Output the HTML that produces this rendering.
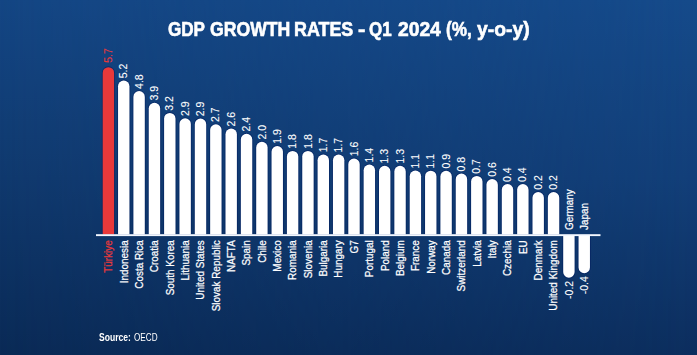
<!DOCTYPE html>
<html><head><meta charset="utf-8">
<style>
html,body{margin:0;padding:0;}
body{width:697px;height:355px;overflow:hidden;position:relative;
background:linear-gradient(180deg,rgb(20,70,132) 0%,rgb(16,57,110) 50%,rgb(10,42,86) 100%);
font-family:"Liberation Sans",sans-serif;}
svg{position:absolute;left:0;top:0;}
.bgr{position:absolute;left:0;top:0;width:697px;height:355px;background:linear-gradient(180deg,rgb(21,74,138) 0%,rgb(18,63,121) 50%,rgb(12,46,94) 100%);-webkit-mask-image:linear-gradient(90deg,transparent 0%,#000 100%);mask-image:linear-gradient(90deg,transparent 0%,#000 100%);}
.l{font-family:"Liberation Sans",sans-serif;font-size:10.8px;stroke-width:0.25px;}
.v{font-family:"Liberation Sans",sans-serif;font-size:10px;stroke-width:0.1px;}
.title{position:absolute;top:18px;white-space:nowrap;color:#fff;font-weight:bold;font-size:19.3px;line-height:24px;transform-origin:0 0;-webkit-text-stroke:0.6px #fff;}
.src{position:absolute;top:331.5px;white-space:nowrap;color:#fff;font-size:10px;line-height:12px;transform-origin:0 0;}
</style></head><body>
<div class="bgr"></div>
<div class="title" style="left:167.51px;transform:scaleX(0.8854)">GDP</div><div class="title" style="left:209.68px;transform:scaleX(0.9151)">GROWTH</div><div class="title" style="left:293.97px;transform:scaleX(0.9274)">RATES</div><div class="title" style="left:357.70px;transform:scaleX(1.1333)">-</div><div class="title" style="left:368.92px;transform:scaleX(0.8800)">Q1</div><div class="title" style="left:398.20px;transform:scaleX(0.9977)">2024</div><div class="title" style="left:446.31px;transform:scaleX(0.8889)">(%,</div><div class="title" style="left:476.60px;transform:scaleX(1.0019)">y-o-y)</div>
<svg width="697" height="355" viewBox="0 0 697 355">
<path d="M102.70,234.5 V72.90 A5.70,5.70 0 0 1 114.10,72.90 V234.5 Z" fill="none" stroke="#001e5e" stroke-opacity="0.55" stroke-width="1.8"/>
<path d="M118.05,234.5 V86.20 A5.70,5.70 0 0 1 129.45,86.20 V234.5 Z" fill="none" stroke="#001e5e" stroke-opacity="0.55" stroke-width="1.8"/>
<path d="M133.40,234.5 V96.80 A5.70,5.70 0 0 1 144.80,96.80 V234.5 Z" fill="none" stroke="#001e5e" stroke-opacity="0.55" stroke-width="1.8"/>
<path d="M148.75,234.5 V108.50 A5.70,5.70 0 0 1 160.15,108.50 V234.5 Z" fill="none" stroke="#001e5e" stroke-opacity="0.55" stroke-width="1.8"/>
<path d="M164.10,234.5 V118.60 A5.70,5.70 0 0 1 175.50,118.60 V234.5 Z" fill="none" stroke="#001e5e" stroke-opacity="0.55" stroke-width="1.8"/>
<path d="M179.45,234.5 V124.00 A5.70,5.70 0 0 1 190.85,124.00 V234.5 Z" fill="none" stroke="#001e5e" stroke-opacity="0.55" stroke-width="1.8"/>
<path d="M194.80,234.5 V124.20 A5.70,5.70 0 0 1 206.20,124.20 V234.5 Z" fill="none" stroke="#001e5e" stroke-opacity="0.55" stroke-width="1.8"/>
<path d="M210.15,234.5 V130.00 A5.70,5.70 0 0 1 221.55,130.00 V234.5 Z" fill="none" stroke="#001e5e" stroke-opacity="0.55" stroke-width="1.8"/>
<path d="M225.50,234.5 V134.30 A5.70,5.70 0 0 1 236.90,134.30 V234.5 Z" fill="none" stroke="#001e5e" stroke-opacity="0.55" stroke-width="1.8"/>
<path d="M240.85,234.5 V139.50 A5.70,5.70 0 0 1 252.25,139.50 V234.5 Z" fill="none" stroke="#001e5e" stroke-opacity="0.55" stroke-width="1.8"/>
<path d="M256.20,234.5 V147.50 A5.70,5.70 0 0 1 267.60,147.50 V234.5 Z" fill="none" stroke="#001e5e" stroke-opacity="0.55" stroke-width="1.8"/>
<path d="M271.55,234.5 V151.70 A5.70,5.70 0 0 1 282.95,151.70 V234.5 Z" fill="none" stroke="#001e5e" stroke-opacity="0.55" stroke-width="1.8"/>
<path d="M286.90,234.5 V156.60 A5.70,5.70 0 0 1 298.30,156.60 V234.5 Z" fill="none" stroke="#001e5e" stroke-opacity="0.55" stroke-width="1.8"/>
<path d="M302.25,234.5 V156.60 A5.70,5.70 0 0 1 313.65,156.60 V234.5 Z" fill="none" stroke="#001e5e" stroke-opacity="0.55" stroke-width="1.8"/>
<path d="M317.60,234.5 V160.20 A5.70,5.70 0 0 1 329.00,160.20 V234.5 Z" fill="none" stroke="#001e5e" stroke-opacity="0.55" stroke-width="1.8"/>
<path d="M332.95,234.5 V160.30 A5.70,5.70 0 0 1 344.35,160.30 V234.5 Z" fill="none" stroke="#001e5e" stroke-opacity="0.55" stroke-width="1.8"/>
<path d="M348.30,234.5 V164.20 A5.70,5.70 0 0 1 359.70,164.20 V234.5 Z" fill="none" stroke="#001e5e" stroke-opacity="0.55" stroke-width="1.8"/>
<path d="M363.65,234.5 V170.30 A5.70,5.70 0 0 1 375.05,170.30 V234.5 Z" fill="none" stroke="#001e5e" stroke-opacity="0.55" stroke-width="1.8"/>
<path d="M379.00,234.5 V171.50 A5.70,5.70 0 0 1 390.40,171.50 V234.5 Z" fill="none" stroke="#001e5e" stroke-opacity="0.55" stroke-width="1.8"/>
<path d="M394.35,234.5 V171.50 A5.70,5.70 0 0 1 405.75,171.50 V234.5 Z" fill="none" stroke="#001e5e" stroke-opacity="0.55" stroke-width="1.8"/>
<path d="M409.70,234.5 V176.30 A5.70,5.70 0 0 1 421.10,176.30 V234.5 Z" fill="none" stroke="#001e5e" stroke-opacity="0.55" stroke-width="1.8"/>
<path d="M425.05,234.5 V176.40 A5.70,5.70 0 0 1 436.45,176.40 V234.5 Z" fill="none" stroke="#001e5e" stroke-opacity="0.55" stroke-width="1.8"/>
<path d="M440.40,234.5 V176.50 A5.70,5.70 0 0 1 451.80,176.50 V234.5 Z" fill="none" stroke="#001e5e" stroke-opacity="0.55" stroke-width="1.8"/>
<path d="M455.75,234.5 V179.30 A5.70,5.70 0 0 1 467.15,179.30 V234.5 Z" fill="none" stroke="#001e5e" stroke-opacity="0.55" stroke-width="1.8"/>
<path d="M471.10,234.5 V181.60 A5.70,5.70 0 0 1 482.50,181.60 V234.5 Z" fill="none" stroke="#001e5e" stroke-opacity="0.55" stroke-width="1.8"/>
<path d="M486.45,234.5 V184.70 A5.70,5.70 0 0 1 497.85,184.70 V234.5 Z" fill="none" stroke="#001e5e" stroke-opacity="0.55" stroke-width="1.8"/>
<path d="M501.80,234.5 V189.80 A5.70,5.70 0 0 1 513.20,189.80 V234.5 Z" fill="none" stroke="#001e5e" stroke-opacity="0.55" stroke-width="1.8"/>
<path d="M517.15,234.5 V189.80 A5.70,5.70 0 0 1 528.55,189.80 V234.5 Z" fill="none" stroke="#001e5e" stroke-opacity="0.55" stroke-width="1.8"/>
<path d="M532.50,234.5 V197.70 A5.70,5.70 0 0 1 543.90,197.70 V234.5 Z" fill="none" stroke="#001e5e" stroke-opacity="0.55" stroke-width="1.8"/>
<path d="M547.85,234.5 V197.70 A5.70,5.70 0 0 1 559.25,197.70 V234.5 Z" fill="none" stroke="#001e5e" stroke-opacity="0.55" stroke-width="1.8"/>
<path d="M563.20,236.0 V272.10 A5.70,5.70 0 0 0 574.60,272.10 V236.0 Z" fill="none" stroke="#001e5e" stroke-opacity="0.55" stroke-width="1.8"/>
<path d="M578.55,236.0 V267.50 A5.70,5.70 0 0 0 589.95,267.50 V236.0 Z" fill="none" stroke="#001e5e" stroke-opacity="0.55" stroke-width="1.8"/>
<path d="M102.70,234.5 V72.90 A5.70,5.70 0 0 1 114.10,72.90 V234.5 Z" fill="#e8393a"/>
<path d="M118.05,234.5 V86.20 A5.70,5.70 0 0 1 129.45,86.20 V234.5 Z" fill="#ffffff"/>
<path d="M133.40,234.5 V96.80 A5.70,5.70 0 0 1 144.80,96.80 V234.5 Z" fill="#ffffff"/>
<path d="M148.75,234.5 V108.50 A5.70,5.70 0 0 1 160.15,108.50 V234.5 Z" fill="#ffffff"/>
<path d="M164.10,234.5 V118.60 A5.70,5.70 0 0 1 175.50,118.60 V234.5 Z" fill="#ffffff"/>
<path d="M179.45,234.5 V124.00 A5.70,5.70 0 0 1 190.85,124.00 V234.5 Z" fill="#ffffff"/>
<path d="M194.80,234.5 V124.20 A5.70,5.70 0 0 1 206.20,124.20 V234.5 Z" fill="#ffffff"/>
<path d="M210.15,234.5 V130.00 A5.70,5.70 0 0 1 221.55,130.00 V234.5 Z" fill="#ffffff"/>
<path d="M225.50,234.5 V134.30 A5.70,5.70 0 0 1 236.90,134.30 V234.5 Z" fill="#ffffff"/>
<path d="M240.85,234.5 V139.50 A5.70,5.70 0 0 1 252.25,139.50 V234.5 Z" fill="#ffffff"/>
<path d="M256.20,234.5 V147.50 A5.70,5.70 0 0 1 267.60,147.50 V234.5 Z" fill="#ffffff"/>
<path d="M271.55,234.5 V151.70 A5.70,5.70 0 0 1 282.95,151.70 V234.5 Z" fill="#ffffff"/>
<path d="M286.90,234.5 V156.60 A5.70,5.70 0 0 1 298.30,156.60 V234.5 Z" fill="#ffffff"/>
<path d="M302.25,234.5 V156.60 A5.70,5.70 0 0 1 313.65,156.60 V234.5 Z" fill="#ffffff"/>
<path d="M317.60,234.5 V160.20 A5.70,5.70 0 0 1 329.00,160.20 V234.5 Z" fill="#ffffff"/>
<path d="M332.95,234.5 V160.30 A5.70,5.70 0 0 1 344.35,160.30 V234.5 Z" fill="#ffffff"/>
<path d="M348.30,234.5 V164.20 A5.70,5.70 0 0 1 359.70,164.20 V234.5 Z" fill="#ffffff"/>
<path d="M363.65,234.5 V170.30 A5.70,5.70 0 0 1 375.05,170.30 V234.5 Z" fill="#ffffff"/>
<path d="M379.00,234.5 V171.50 A5.70,5.70 0 0 1 390.40,171.50 V234.5 Z" fill="#ffffff"/>
<path d="M394.35,234.5 V171.50 A5.70,5.70 0 0 1 405.75,171.50 V234.5 Z" fill="#ffffff"/>
<path d="M409.70,234.5 V176.30 A5.70,5.70 0 0 1 421.10,176.30 V234.5 Z" fill="#ffffff"/>
<path d="M425.05,234.5 V176.40 A5.70,5.70 0 0 1 436.45,176.40 V234.5 Z" fill="#ffffff"/>
<path d="M440.40,234.5 V176.50 A5.70,5.70 0 0 1 451.80,176.50 V234.5 Z" fill="#ffffff"/>
<path d="M455.75,234.5 V179.30 A5.70,5.70 0 0 1 467.15,179.30 V234.5 Z" fill="#ffffff"/>
<path d="M471.10,234.5 V181.60 A5.70,5.70 0 0 1 482.50,181.60 V234.5 Z" fill="#ffffff"/>
<path d="M486.45,234.5 V184.70 A5.70,5.70 0 0 1 497.85,184.70 V234.5 Z" fill="#ffffff"/>
<path d="M501.80,234.5 V189.80 A5.70,5.70 0 0 1 513.20,189.80 V234.5 Z" fill="#ffffff"/>
<path d="M517.15,234.5 V189.80 A5.70,5.70 0 0 1 528.55,189.80 V234.5 Z" fill="#ffffff"/>
<path d="M532.50,234.5 V197.70 A5.70,5.70 0 0 1 543.90,197.70 V234.5 Z" fill="#ffffff"/>
<path d="M547.85,234.5 V197.70 A5.70,5.70 0 0 1 559.25,197.70 V234.5 Z" fill="#ffffff"/>
<path d="M563.20,236.0 V272.10 A5.70,5.70 0 0 0 574.60,272.10 V236.0 Z" fill="#ffffff"/>
<path d="M578.55,236.0 V267.50 A5.70,5.70 0 0 0 589.95,267.50 V236.0 Z" fill="#ffffff"/>
<rect x="96" y="234.20" width="504.5" height="1.9" fill="#f4f8ff"/>
<text transform="translate(112.20,240.2) rotate(-90) scale(0.92,1)" text-anchor="end" class="l" fill="#e8393a" stroke="#e8393a">Türkiye</text>
<text transform="translate(112.00,62.80) rotate(-90) scale(1.05,1)" text-anchor="start" class="v" fill="#e8393a" stroke="#e8393a">5.7</text>
<text transform="translate(127.55,240.2) rotate(-90) scale(0.92,1)" text-anchor="end" class="l" fill="#ffffff" stroke="#ffffff">Indonesia</text>
<text transform="translate(127.35,78.30) rotate(-90) scale(1.05,1)" text-anchor="start" class="v" fill="#ffffff" stroke="#ffffff">5.2</text>
<text transform="translate(142.90,240.2) rotate(-90) scale(0.92,1)" text-anchor="end" class="l" fill="#ffffff" stroke="#ffffff">Costa Rica</text>
<text transform="translate(142.70,88.90) rotate(-90) scale(1.05,1)" text-anchor="start" class="v" fill="#ffffff" stroke="#ffffff">4.8</text>
<text transform="translate(158.25,240.2) rotate(-90) scale(0.92,1)" text-anchor="end" class="l" fill="#ffffff" stroke="#ffffff">Croatia</text>
<text transform="translate(158.05,100.60) rotate(-90) scale(1.05,1)" text-anchor="start" class="v" fill="#ffffff" stroke="#ffffff">3.9</text>
<text transform="translate(173.60,240.2) rotate(-90) scale(0.92,1)" text-anchor="end" class="l" fill="#ffffff" stroke="#ffffff">South Korea</text>
<text transform="translate(173.40,110.70) rotate(-90) scale(1.05,1)" text-anchor="start" class="v" fill="#ffffff" stroke="#ffffff">3.2</text>
<text transform="translate(188.95,240.2) rotate(-90) scale(0.92,1)" text-anchor="end" class="l" fill="#ffffff" stroke="#ffffff">Lithuania</text>
<text transform="translate(188.75,116.10) rotate(-90) scale(1.05,1)" text-anchor="start" class="v" fill="#ffffff" stroke="#ffffff">2.9</text>
<text transform="translate(204.30,240.2) rotate(-90) scale(0.92,1)" text-anchor="end" class="l" fill="#ffffff" stroke="#ffffff">United States</text>
<text transform="translate(204.10,116.30) rotate(-90) scale(1.05,1)" text-anchor="start" class="v" fill="#ffffff" stroke="#ffffff">2.9</text>
<text transform="translate(219.65,240.2) rotate(-90) scale(0.92,1)" text-anchor="end" class="l" fill="#ffffff" stroke="#ffffff">Slovak Republic</text>
<text transform="translate(219.45,122.10) rotate(-90) scale(1.05,1)" text-anchor="start" class="v" fill="#ffffff" stroke="#ffffff">2.7</text>
<text transform="translate(235.00,240.2) rotate(-90) scale(0.92,1)" text-anchor="end" class="l" fill="#ffffff" stroke="#ffffff">NAFTA</text>
<text transform="translate(234.80,126.40) rotate(-90) scale(1.05,1)" text-anchor="start" class="v" fill="#ffffff" stroke="#ffffff">2.6</text>
<text transform="translate(250.35,240.2) rotate(-90) scale(0.92,1)" text-anchor="end" class="l" fill="#ffffff" stroke="#ffffff">Spain</text>
<text transform="translate(250.15,131.60) rotate(-90) scale(1.05,1)" text-anchor="start" class="v" fill="#ffffff" stroke="#ffffff">2.4</text>
<text transform="translate(265.70,240.2) rotate(-90) scale(0.92,1)" text-anchor="end" class="l" fill="#ffffff" stroke="#ffffff">Chile</text>
<text transform="translate(265.50,139.60) rotate(-90) scale(1.05,1)" text-anchor="start" class="v" fill="#ffffff" stroke="#ffffff">2.0</text>
<text transform="translate(281.05,240.2) rotate(-90) scale(0.92,1)" text-anchor="end" class="l" fill="#ffffff" stroke="#ffffff">Mexico</text>
<text transform="translate(280.85,143.80) rotate(-90) scale(1.05,1)" text-anchor="start" class="v" fill="#ffffff" stroke="#ffffff">1.9</text>
<text transform="translate(296.40,240.2) rotate(-90) scale(0.92,1)" text-anchor="end" class="l" fill="#ffffff" stroke="#ffffff">Romania</text>
<text transform="translate(296.20,148.70) rotate(-90) scale(1.05,1)" text-anchor="start" class="v" fill="#ffffff" stroke="#ffffff">1.8</text>
<text transform="translate(311.75,240.2) rotate(-90) scale(0.92,1)" text-anchor="end" class="l" fill="#ffffff" stroke="#ffffff">Slovenia</text>
<text transform="translate(311.55,148.70) rotate(-90) scale(1.05,1)" text-anchor="start" class="v" fill="#ffffff" stroke="#ffffff">1.8</text>
<text transform="translate(327.10,240.2) rotate(-90) scale(0.92,1)" text-anchor="end" class="l" fill="#ffffff" stroke="#ffffff">Bulgaria</text>
<text transform="translate(326.90,152.30) rotate(-90) scale(1.05,1)" text-anchor="start" class="v" fill="#ffffff" stroke="#ffffff">1.7</text>
<text transform="translate(342.45,240.2) rotate(-90) scale(0.92,1)" text-anchor="end" class="l" fill="#ffffff" stroke="#ffffff">Hungary</text>
<text transform="translate(342.25,152.40) rotate(-90) scale(1.05,1)" text-anchor="start" class="v" fill="#ffffff" stroke="#ffffff">1.7</text>
<text transform="translate(357.80,240.2) rotate(-90) scale(0.92,1)" text-anchor="end" class="l" fill="#ffffff" stroke="#ffffff">G7</text>
<text transform="translate(357.60,156.30) rotate(-90) scale(1.05,1)" text-anchor="start" class="v" fill="#ffffff" stroke="#ffffff">1.6</text>
<text transform="translate(373.15,240.2) rotate(-90) scale(0.92,1)" text-anchor="end" class="l" fill="#ffffff" stroke="#ffffff">Portugal</text>
<text transform="translate(372.95,162.40) rotate(-90) scale(1.05,1)" text-anchor="start" class="v" fill="#ffffff" stroke="#ffffff">1.4</text>
<text transform="translate(388.50,240.2) rotate(-90) scale(0.92,1)" text-anchor="end" class="l" fill="#ffffff" stroke="#ffffff">Poland</text>
<text transform="translate(388.30,163.60) rotate(-90) scale(1.05,1)" text-anchor="start" class="v" fill="#ffffff" stroke="#ffffff">1.3</text>
<text transform="translate(403.85,240.2) rotate(-90) scale(0.92,1)" text-anchor="end" class="l" fill="#ffffff" stroke="#ffffff">Belgium</text>
<text transform="translate(403.65,163.60) rotate(-90) scale(1.05,1)" text-anchor="start" class="v" fill="#ffffff" stroke="#ffffff">1.3</text>
<text transform="translate(419.20,240.2) rotate(-90) scale(0.92,1)" text-anchor="end" class="l" fill="#ffffff" stroke="#ffffff">France</text>
<text transform="translate(419.00,168.40) rotate(-90) scale(1.05,1)" text-anchor="start" class="v" fill="#ffffff" stroke="#ffffff">1.1</text>
<text transform="translate(434.55,240.2) rotate(-90) scale(0.92,1)" text-anchor="end" class="l" fill="#ffffff" stroke="#ffffff">Norway</text>
<text transform="translate(434.35,168.50) rotate(-90) scale(1.05,1)" text-anchor="start" class="v" fill="#ffffff" stroke="#ffffff">1.1</text>
<text transform="translate(449.90,240.2) rotate(-90) scale(0.92,1)" text-anchor="end" class="l" fill="#ffffff" stroke="#ffffff">Canada</text>
<text transform="translate(449.70,168.60) rotate(-90) scale(1.05,1)" text-anchor="start" class="v" fill="#ffffff" stroke="#ffffff">0.9</text>
<text transform="translate(465.25,240.2) rotate(-90) scale(0.92,1)" text-anchor="end" class="l" fill="#ffffff" stroke="#ffffff">Switzerland</text>
<text transform="translate(465.05,171.40) rotate(-90) scale(1.05,1)" text-anchor="start" class="v" fill="#ffffff" stroke="#ffffff">0.8</text>
<text transform="translate(480.60,240.2) rotate(-90) scale(0.92,1)" text-anchor="end" class="l" fill="#ffffff" stroke="#ffffff">Latvia</text>
<text transform="translate(480.40,173.70) rotate(-90) scale(1.05,1)" text-anchor="start" class="v" fill="#ffffff" stroke="#ffffff">0.7</text>
<text transform="translate(495.95,240.2) rotate(-90) scale(0.92,1)" text-anchor="end" class="l" fill="#ffffff" stroke="#ffffff">Italy</text>
<text transform="translate(495.75,176.80) rotate(-90) scale(1.05,1)" text-anchor="start" class="v" fill="#ffffff" stroke="#ffffff">0.6</text>
<text transform="translate(511.30,240.2) rotate(-90) scale(0.92,1)" text-anchor="end" class="l" fill="#ffffff" stroke="#ffffff">Czechia</text>
<text transform="translate(511.10,181.90) rotate(-90) scale(1.05,1)" text-anchor="start" class="v" fill="#ffffff" stroke="#ffffff">0.4</text>
<text transform="translate(526.65,240.2) rotate(-90) scale(0.92,1)" text-anchor="end" class="l" fill="#ffffff" stroke="#ffffff">EU</text>
<text transform="translate(526.45,181.90) rotate(-90) scale(1.05,1)" text-anchor="start" class="v" fill="#ffffff" stroke="#ffffff">0.4</text>
<text transform="translate(542.00,240.2) rotate(-90) scale(0.92,1)" text-anchor="end" class="l" fill="#ffffff" stroke="#ffffff">Denmark</text>
<text transform="translate(541.80,189.80) rotate(-90) scale(1.05,1)" text-anchor="start" class="v" fill="#ffffff" stroke="#ffffff">0.2</text>
<text transform="translate(557.35,240.2) rotate(-90) scale(0.92,1)" text-anchor="end" class="l" fill="#ffffff" stroke="#ffffff">United Kingdom</text>
<text transform="translate(557.15,189.80) rotate(-90) scale(1.05,1)" text-anchor="start" class="v" fill="#ffffff" stroke="#ffffff">0.2</text>
<text transform="translate(572.70,230.00) rotate(-90) scale(0.92,1)" text-anchor="start" class="l" fill="#ffffff" stroke="#ffffff">Germany</text>
<text transform="translate(572.50,280.80) rotate(-90) scale(1.05,1)" text-anchor="end" class="v" fill="#ffffff" stroke="#ffffff">-0.2</text>
<text transform="translate(588.05,230.00) rotate(-90) scale(0.92,1)" text-anchor="start" class="l" fill="#ffffff" stroke="#ffffff">Japan</text>
<text transform="translate(587.85,276.20) rotate(-90) scale(1.05,1)" text-anchor="end" class="v" fill="#ffffff" stroke="#ffffff">-0.4</text>
</svg>
<div class="src" style="left:99px;font-weight:bold;transform:scaleX(0.854)">Source:</div><div class="src" style="left:133.7px;transform:scaleX(0.814)">OECD</div>
</body></html>
